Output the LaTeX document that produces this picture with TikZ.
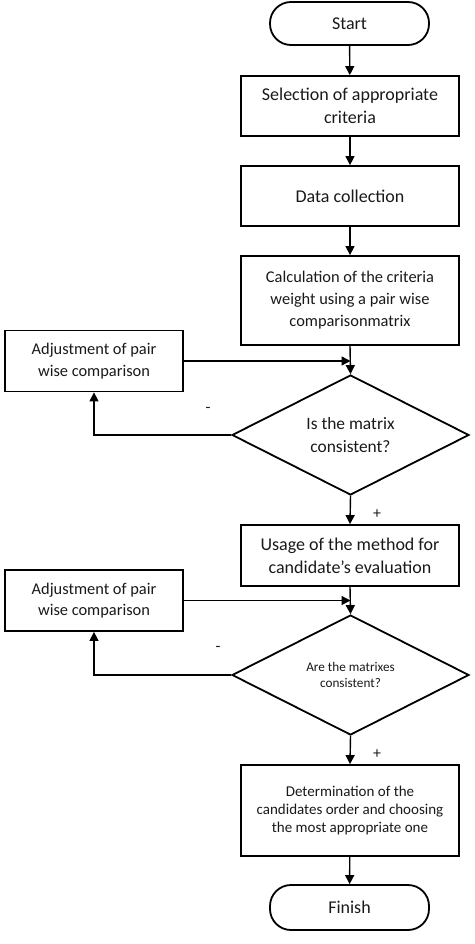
\documentclass[tikz,border=0pt]{standalone}
\usepackage{fontspec}
\setmainfont{Carlito}
\usetikzlibrary{shapes.geometric,arrows.meta}
\begin{document}
\begin{tikzpicture}[x=1pt,y=-1pt,
  every node/.style={font=\fontsize{18}{23}\selectfont, align=center, text=black!90},
  procbox/.style={draw, line width=1.8pt, rectangle, minimum width=218pt, inner sep=0pt},
  adjbox/.style={draw, line width=1.8pt, rectangle, minimum width=178pt, minimum height=61pt, inner sep=0pt, font=\fontsize{16.4}{21.5}\selectfont},
  termbox/.style={draw, line width=1.8pt, rectangle, rounded corners=21pt, minimum width=159pt, inner sep=0pt},
  decbox/.style={draw, line width=1.8pt, diamond, minimum width=237pt, minimum height=120pt, inner sep=0pt, aspect=1.975},
  flow/.style={draw, line width=1.4pt, -{Triangle[length=9pt,width=9pt]}},
  sign/.style={inner sep=0pt, font=\fontsize{16}{18}\selectfont}
]
\useasboundingbox (0,0) rectangle (474,944);
\node[termbox, minimum height=43pt] (start) at (349.5,23.5) {Start};
\node[procbox, minimum height=60pt] (sel) at (350,106) {Selection of appropriate\\criteria};
\node[procbox, minimum height=60pt] (data) at (350,196) {Data collection};
\node[procbox, minimum height=89pt, font=\fontsize{16.4}{22}\selectfont] (calc) at (350,300.5) {Calculation of the criteria\\weight using a pair wise\\comparisonmatrix};
\node[adjbox] (adj1) at (94,361) {Adjustment of pair\\wise comparison};
\node[decbox, font=\fontsize{17.4}{22.7}\selectfont] (d1) at (350.5,435) {Is the matrix\\consistent?};
\node[procbox, minimum height=61pt] (use) at (350,555.5) {Usage of the method for\\candidate’s evaluation};
\node[adjbox] (adj2) at (94,600.5) {Adjustment of pair\\wise comparison};
\node[decbox, font=\fontsize{13.2}{16}\selectfont] (d2) at (350.5,675) {Are the matrixes\\consistent?};
\node[procbox, minimum height=91pt, font=\fontsize{15}{18.3}\selectfont] (det) at (350,810.5) {Determination of the\\candidates order and choosing\\the most appropriate one};
\node[termbox, minimum height=45pt] (finish) at (349.5,907.5) {Finish};
\node[sign] (m1) at (208,410) {-};
\node[sign] (p1) at (377,514) {+};
\node[sign] (m2) at (218,649) {-};
\node[sign] (p2) at (377,754) {+};
\draw[flow] (start) -- (sel);
\draw[flow] (sel) -- (data);
\draw[flow] (data) -- (calc);
\draw[flow] (calc.south) -- (d1.north);
\draw[flow] (adj1.east) -- (adj1.east -| d1.north);
\draw[flow] (d1.west) -| (adj1.south);
\draw[flow] (d1.south) -- (use.north);
\draw[flow] (use.south) -- (d2.north);
\draw[flow] (adj2.east) -- (adj2.east -| d2.north);
\draw[flow] (d2.west) -| (adj2.south);
\draw[flow] (d2.south) -- (det.north);
\draw[flow] (det) -- (finish);
\end{tikzpicture}
\end{document}
